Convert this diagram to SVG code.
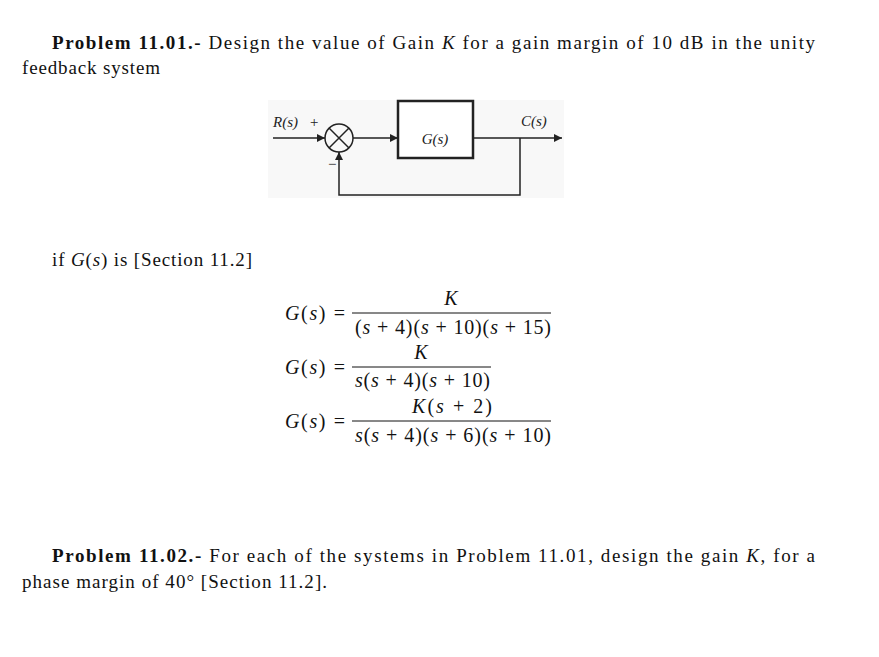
<svg xmlns="http://www.w3.org/2000/svg" width="879" height="657" viewBox="0 0 879 657">
<style>
.t{font-family:"Liberation Serif","DejaVu Serif",serif;font-size:19px;fill:#111}
.m{font-family:"Liberation Serif","DejaVu Serif",serif;font-size:20px;fill:#111}
.d{font-family:"Liberation Serif","DejaVu Serif",serif;font-size:15px;font-style:italic;fill:#222}
.ln{stroke:#222;stroke-width:1.5;fill:none}
</style>
<defs><marker id="a" viewBox="0 0 10 10" refX="10" refY="5" markerWidth="10" markerHeight="8" markerUnits="userSpaceOnUse" orient="auto"><path d="M0,0L10,5L0,10z" fill="#222"/></marker></defs>
<rect width="879" height="657" fill="#fff"/>
<text class="t" x="52" y="49" textLength="763" lengthAdjust="spacing"><tspan font-weight="bold">Problem 11.01.-</tspan> Design the value of Gain <tspan font-style="italic">K</tspan> for a gain margin of 10 dB in the unity</text>
<text class="t" x="22" y="74" textLength="138" lengthAdjust="spacing">feedback system</text>
<rect x="268" y="100" width="296" height="98" fill="#f8f8f8"/>
<g id="sum"><circle cx="339" cy="138" r="14" class="ln" fill="#fff"/><path d="M329,128L349,148M349,128L329,148" class="ln"/></g>
<g id="G"><rect x="398" y="101" width="75" height="57" fill="#fff" stroke="#222" stroke-width="2.5"/><text class="d" x="435" y="144" text-anchor="middle">G(s)</text></g>
<g id="connectors">
<path d="M273,138H325" class="ln" marker-end="url(#a)"/>
<path d="M353,138H398" class="ln" marker-end="url(#a)"/>
<path d="M473,138H562" class="ln" marker-end="url(#a)"/>
<path d="M520,138V195H339V152" class="ln" marker-end="url(#a)"/>
</g>
<text class="d" x="273" y="127">R(s)</text><text class="d" x="309" y="127" font-style="normal">+</text>
<text class="d" x="327" y="169" font-style="normal">−</text>
<text class="d" x="521" y="126">C(s)</text>
<text class="t" x="52" y="266" textLength="200" lengthAdjust="spacing">if <tspan font-style="italic">G</tspan>(<tspan font-style="italic">s</tspan>) is [Section 11.2]</text>
<g class="m">
<text x="285" y="320" textLength="60" lengthAdjust="spacing"><tspan font-style="italic">G</tspan>(<tspan font-style="italic">s</tspan>) =</text>
<text x="451" y="305" text-anchor="middle" font-style="italic">K</text>
<path d="M352,313H551" stroke="#111" stroke-width="1"/>
<text x="355" y="334" textLength="196" lengthAdjust="spacing">(<tspan font-style="italic">s</tspan> + 4)(<tspan font-style="italic">s</tspan> + 10)(<tspan font-style="italic">s</tspan> + 15)</text>
<text x="285" y="374" textLength="60" lengthAdjust="spacing"><tspan font-style="italic">G</tspan>(<tspan font-style="italic">s</tspan>) =</text>
<text x="421" y="359" text-anchor="middle" font-style="italic">K</text>
<path d="M352,367H491" stroke="#111" stroke-width="1"/>
<text x="355" y="387" textLength="135" lengthAdjust="spacing"><tspan font-style="italic">s</tspan>(<tspan font-style="italic">s</tspan> + 4)(<tspan font-style="italic">s</tspan> + 10)</text>
<text x="285" y="428" textLength="60" lengthAdjust="spacing"><tspan font-style="italic">G</tspan>(<tspan font-style="italic">s</tspan>) =</text>
<text x="412" y="413" textLength="80" lengthAdjust="spacing"><tspan font-style="italic">K</tspan>(<tspan font-style="italic">s</tspan> + 2)</text>
<path d="M352,421H551" stroke="#111" stroke-width="1"/>
<text x="355" y="442" textLength="196" lengthAdjust="spacing"><tspan font-style="italic">s</tspan>(<tspan font-style="italic">s</tspan> + 4)(<tspan font-style="italic">s</tspan> + 6)(<tspan font-style="italic">s</tspan> + 10)</text>
</g>
<text class="t" x="52" y="562" textLength="763" lengthAdjust="spacing"><tspan font-weight="bold">Problem 11.02.-</tspan> For each of the systems in Problem 11.01, design the gain <tspan font-style="italic">K</tspan>, for a</text>
<text class="t" x="22" y="588" textLength="305" lengthAdjust="spacing">phase margin of 40° [Section 11.2].</text>
</svg>
